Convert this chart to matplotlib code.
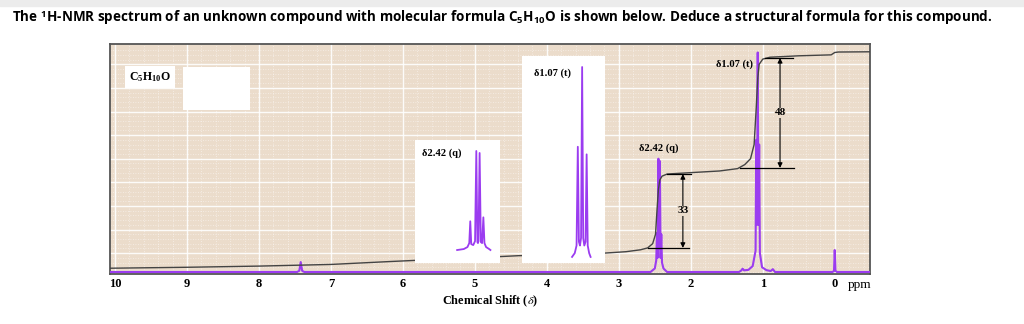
import numpy as np
import matplotlib.pyplot as plt

plt.rcParams['mathtext.fontset'] = 'stix'

# ---- datos (ppm, intensidad relativa) ----
# espectro principal
spec_ppm = [10.07, 7.47, 7.44, 7.42, 7.40, 7.37, 2.56, 2.50, 2.48, 2.47, 2.46, 2.45,
            2.44, 2.43, 2.42, 2.41, 2.40, 2.38, 2.33, 1.33, 1.30, 1.28, 1.26, 1.20,
            1.14, 1.10, 1.09, 1.08, 1.07, 1.06, 1.05, 1.04, 1.01, 0.95, 0.89, 0.86,
            0.83, 0.03, 0.01, 0.0, -0.01, -0.03, -0.49]
spec_int = [0, 0, 0.5, 4.2, 0.5, 0, 0, 1.5, 5, 16.5, 6, 48,
            10, 47, 6, 16, 4, 1.5, 0, 0, 0.6, 1.4, 0.7, 0.9,
            2.5, 9, 56, 20, 93, 20, 54, 8, 2, 0.8, 0.4, 1.2,
            0, 0, 0.5, 9.3, 0.5, 0, 0]

# curva de integracion
integ_ppm = [10.07, 9.0, 8.0, 7.0, 6.2, 5.2, 4.6, 4.4, 3.6, 3.2, 2.9, 2.7, 2.6, 2.53,
             2.49, 2.47, 2.45, 2.43, 2.40, 2.33, 2.0, 1.6, 1.35, 1.25, 1.17, 1.12,
             1.09, 1.07, 1.05, 1.0, 0.9, 0.5, 0.05, 0.0, -0.05, -0.49]
integ_val = [1.6, 2.0, 2.5, 3.2, 4.4, 5.8, 6.6, 6.9, 7.6, 8.0, 8.6, 9.4, 10.2, 12,
             16, 26, 35, 39, 40.6, 41.5, 42.1, 42.8, 43.8, 45.5, 48, 54,
             70, 82, 88, 90.2, 91.0, 91.6, 92.0, 93.0, 93.2, 93.3]

# escalones de integracion: (ppm flecha, nivel bajo, nivel alto, etiqueta)
steps_ppm = [2.11, 0.76]
steps_low = [10.2, 44.1]
steps_high = [41.5, 90.7]
steps_label = ['33', '48']
low_span = [(2.60, 2.03), (1.32, 0.56)]
high_span = [(2.33, 2.00), (0.97, 0.58)]

# ampliaciones
q_ppm = [2.527, 2.49, 2.47, 2.46, 2.4544, 2.449, 2.438, 2.428, 2.421, 2.415, 2.412,
         2.409, 2.4027, 2.396, 2.389, 2.382, 2.376, 2.367, 2.35, 2.343]
q_int = [0, 1, 3, 7, 29, 6, 5, 9, 100, 8, 7, 9, 98, 8, 7, 33, 7, 3, 1, 0]
t_ppm = [1.125, 1.11, 1.10, 1.093, 1.087, 1.081, 1.075, 1.069, 1.063, 1.057, 1.05,
         1.044, 1.038, 1.03, 1.022]
t_int = [0, 2, 6, 58, 8, 6, 10, 100, 10, 6, 8, 54, 6, 2, 0]

purple = '#9b3cf0'
paper = '#ebdccb'
serif = ['Liberation Serif', 'DejaVu Serif']

fig = plt.figure(figsize=(10.24, 3.24), dpi=100)
fig.patches.append(plt.Rectangle((0, 1 - 6 / 324), 1, 6 / 324, transform=fig.transFigure,
                                 color='#ececec', zorder=0))

fig.text(12 / 1024, 1 - 18 / 324,
         r'The $^\mathregular{1}$H-NMR spectrum of an unknown compound with molecular formula '
         r'C$_\mathregular{5}$H$_\mathregular{10}$O is shown below. Deduce a structural formula for this compound.',
         family=['Open Sans', 'DejaVu Sans'], weight='bold', fontsize=9.75, va='center')

ax = fig.add_axes([110 / 1024, 50 / 324, 760 / 1024, 230 / 324])
ax.set_facecolor(paper)
ax.set_xlim(10.07, -0.49)
ax.set_ylim(-0.85, 96.6)

ax.set_xticks(np.arange(0, 11))
ax.set_xticklabels([str(i) for i in range(11)], family=serif, weight='bold', fontsize=9)
ax.set_xticks(np.arange(-0.4, 10.05, 0.2), minor=True)
ax.set_yticks(np.arange(8, 96, 10))
ax.set_yticks(np.arange(0, 96, 2), minor=True)
ax.tick_params(which='both', length=0)
ax.tick_params(axis='x', pad=3)
ax.tick_params(axis='y', labelleft=False)
ax.grid(which='major', color='white', lw=1.0, alpha=0.9)
ax.grid(which='minor', color='white', lw=0.6, ls=(0, (1, 2)), alpha=0.6)
ax.set_axisbelow(True)
for s in ax.spines.values():
    s.set_color('#555555')
    s.set_linewidth(1.3)

ax.plot(spec_ppm, spec_int, color=purple, lw=1.5, zorder=3)
ax.plot(integ_ppm, integ_val, color='#444444', lw=1.0, zorder=4)

for x, lo, hi, lab, ls, hs in zip(steps_ppm, steps_low, steps_high, steps_label,
                                  low_span, high_span):
    ax.plot(ls, [lo, lo], color='k', lw=0.9, zorder=4)
    ax.plot(hs, [hi, hi], color='k', lw=0.9, zorder=4)
    ax.annotate('', xy=(x, hi), xytext=(x, lo), zorder=4,
                arrowprops=dict(arrowstyle='<|-|>', color='k', lw=0.8,
                                mutation_scale=7, shrinkA=0, shrinkB=0))
    ax.text(x, (lo + hi) / 2, lab, ha='center', va='center', family=serif,
            weight='bold', fontsize=8, zorder=5,
            bbox=dict(facecolor=paper, edgecolor='none', pad=0.5))

ax.text(2.44, 52.5, 'δ2.42 (q)', ha='center', va='center', family=serif,
        weight='bold', fontsize=7.6)
ax.text(1.39, 88, 'δ1.07 (t)', ha='center', va='center', family=serif,
        weight='bold', fontsize=7.6)

# recuadros blancos
ax.text(9.51, 82.6, r'C$_\mathregular{5}$H$_\mathregular{10}$O', ha='center', va='center',
        family=serif, weight='bold', fontsize=8.5,
        bbox=dict(facecolor='white', edgecolor='none', pad=3))
ax.add_patch(plt.Rectangle((8.13, 68.6), 0.93, 18.3, facecolor='white',
                           edgecolor='none', zorder=2))

fig.text(860 / 1024, 1 - 285 / 324, 'ppm', family=serif, fontsize=9.5,
         ha='center', va='center')
fig.text(490 / 1024, 1 - 301 / 324, r'Chemical Shift ($\delta$)', family=serif,
         weight='bold', fontsize=8.8, ha='center', va='center')

# ampliacion del cuadruplete
a1 = fig.add_axes([415 / 1024, 61 / 324, 85 / 1024, 123 / 324])
a1.set_facecolor('white')
a1.set_xlim(2.76, 2.29)
a1.set_ylim(-13.1, 111.1)
a1.plot(q_ppm, q_int, color=purple, lw=1.3)
a1.text(2.61, 98, 'δ2.42 (q)', ha='center', va='center', family=serif,
        weight='bold', fontsize=7.6)

# ampliacion del triplete
a2 = fig.add_axes([522 / 1024, 61 / 324, 83 / 1024, 207 / 324])
a2.set_facecolor('white')
a2.set_xlim(1.403, 0.942)
a2.set_ylim(-3.2, 105.8)
a2.plot(t_ppm, t_int, color=purple, lw=1.3)
a2.text(1.236, 96.8, 'δ1.07 (t)', ha='center', va='center', family=serif,
        weight='bold', fontsize=7.6)

for a in (a1, a2):
    a.set_xticks([])
    a.set_yticks([])
    for s in a.spines.values():
        s.set_visible(False)

fig.savefig('out.png', dpi=100)
